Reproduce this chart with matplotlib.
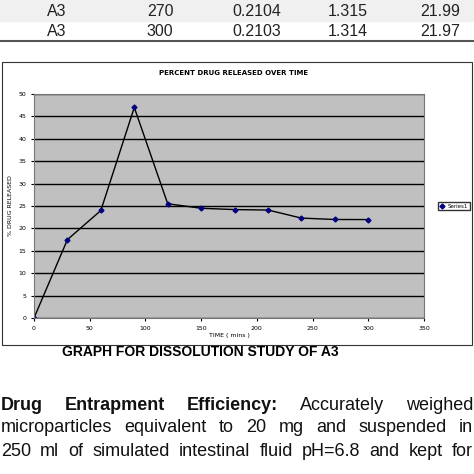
import matplotlib
matplotlib.use("Agg")
import matplotlib.pyplot as plt
from matplotlib.patches import Rectangle

time_min = [0, 30, 60, 90, 120, 150, 180, 210, 240, 270, 300]
pct_released = [0, 17.5, 24.0, 47.0, 25.5, 24.5, 24.2, 24.1, 22.3, 21.99, 21.97]
table_rows = [["A3", "270", "0.2104", "1.315", "21.99"],
              ["A3", "300", "0.2103", "1.314", "21.97"]]
col_x = [57, 160, 257, 348, 440]
para_lines = ["Drug Entrapment Efficiency: Accurately weighed",
              "microparticles equivalent to 20 mg and suspended in",
              "250 ml of simulated intestinal fluid pH=6.8 and kept for"]

W = H = 474
fig = plt.figure(figsize=(4.74, 4.74), dpi=100)
def fx(x): return x / W
def fy(y): return 1 - y / H

# table
fig.patches.append(Rectangle((0, fy(21)), 1, 21 / H, transform=fig.transFigure, color="#f0f0f0", zorder=0))
for r, yy in zip(table_rows, [12, 31]):
    for t, x in zip(r, col_x):
        fig.text(fx(x), fy(yy), t, ha="center", va="center", fontsize=11.5, family="Liberation Sans", color="#222")
fig.add_artist(plt.Line2D([0, 1], [fy(41), fy(41)], color="#555", lw=1.5, transform=fig.transFigure))

# chart frame
fig.patches.append(Rectangle((fx(2), fy(345)), fx(470), (345 - 62) / H, transform=fig.transFigure,
                             fill=False, ec="#333", lw=0.8))
ax = fig.add_axes([fx(34), fy(318), fx(390), (318 - 94) / H])
ax.set_facecolor("#c0c0c0")
ax.plot(time_min, pct_released, color="black", lw=1, marker="D", ms=2.5, mfc="#000080", mec="#000080", label="Series1")
ax.set_xlim(0, 350); ax.set_ylim(0, 50)
ax.set_xticks(range(0, 351, 50)); ax.set_yticks(range(0, 51, 5))
ax.yaxis.grid(True, color="black", lw=1)
ax.tick_params(labelsize=4.5, length=2)
for s in ax.spines.values(): s.set_color("#777")
ax.set_xlabel("TIME ( mins )", fontsize=4.5, labelpad=2)
ax.set_ylabel("% DRUG RELEASED", fontsize=4.5, labelpad=4)
fig.text(fx(234), fy(73), "PERCENT DRUG RELEASED OVER TIME", ha="center", va="center", fontsize=5, weight="bold")
ax.legend(loc="center left", bbox_to_anchor=(1.03, 0.5), fontsize=4, frameon=True, fancybox=False,
          edgecolor="black", handlelength=0.6, borderpad=0.3)

fig.text(fx(200), fy(352), "GRAPH FOR DISSOLUTION STUDY OF A3", ha="center", va="center",
         fontsize=10, weight="bold", family="Liberation Sans")

# justified paragraph
fig.canvas.draw()
rend = fig.canvas.get_renderer()
for i, (line, yy) in enumerate(zip(para_lines, [405, 428, 451])):
    words = line.split(" ")
    kws = dict(fontsize=13, family="Liberation Sans", va="center", ha="left", color="#111")
    arts = []
    for k, w in enumerate(words):
        bold = i == 0 and k < 3
        arts.append(fig.text(0, fy(yy), w, weight="bold" if bold else "normal", **kws))
    widths = [a.get_window_extent(rend).width for a in arts]
    gap = (W - 2 - sum(widths)) / (len(words) - 1)
    x = 1
    for a, wd in zip(arts, widths):
        a.set_x(fx(x)); x += wd + gap

fig.savefig("out.png", dpi=100)
